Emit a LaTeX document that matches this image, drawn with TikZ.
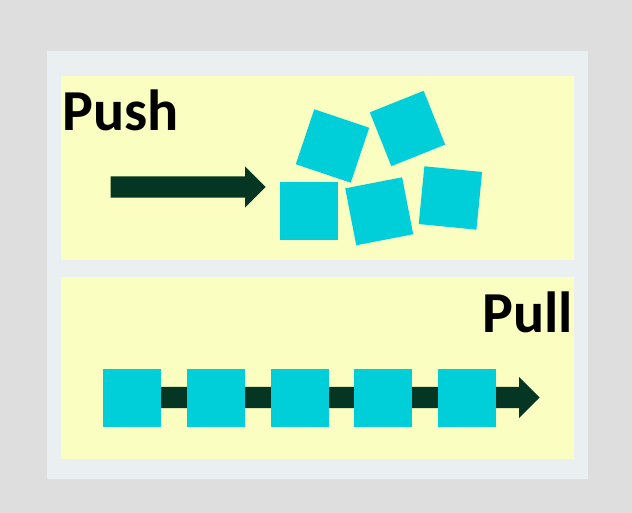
\documentclass[tikz,border=0pt]{standalone}
\usepackage{fontspec}
\setmainfont{Carlito}
\usetikzlibrary{positioning,shapes.arrows}
\definecolor{bggrey}{HTML}{DEDEDE}
\definecolor{panelblue}{HTML}{EAEFF2}
\definecolor{noteyellow}{HTML}{FAFEC0}
\definecolor{blockcyan}{HTML}{00CED9}
\definecolor{flowgreen}{HTML}{053624}
\begin{document}
\begin{tikzpicture}[x=1pt,y=-1pt,
		block/.style = {fill=blockcyan, minimum size=58pt, inner sep=0pt},
		flow/.style = {single arrow, fill=flowgreen, inner xsep=0pt, inner ysep=10.5pt,
			single arrow head extend=10pt, single arrow head indent=0pt, anchor=tip},
		word/.style = {font=\bfseries\fontsize{58}{58}\selectfont, inner sep=0pt}]
		% background and the two panels
		\fill[bggrey] (0,0) rectangle (632,513);
		\fill[panelblue] (47,51) rectangle (588,479);
		\fill[noteyellow] (61,76) rectangle (574,260);
		\fill[noteyellow] (61,277) rectangle (574,459);
		% push
		\node[word, anchor=base west] (push) at (62,131) {Push};
		\node[flow, minimum height=155pt] (pushflow) at (266,187) {};
		\node[block] (p1) at (308.5,211) {};
		\node[block, rotate=-18.6] (p2) at (332.5,146) {};
		\node[block, rotate=21.8] (p3) at (407.5,128.5) {};
		\node[block, rotate=11] (p4) at (379.2,211.3) {};
		\node[block, rotate=-5.6] (p5) at (450.4,198) {};
		% pull
		\node[word, anchor=base east] (pull) at (573,332) {Pull};
		\node[flow, minimum height=410pt] (pullflow) at (540,397.5) {};
		\node[block] (q1) at (132,398) {};
		\foreach \i [count=\j from 1] in {2,...,5}
			\node[block, right=25.4pt of q\j] (q\i) {};
	\end{tikzpicture}
\end{document}
